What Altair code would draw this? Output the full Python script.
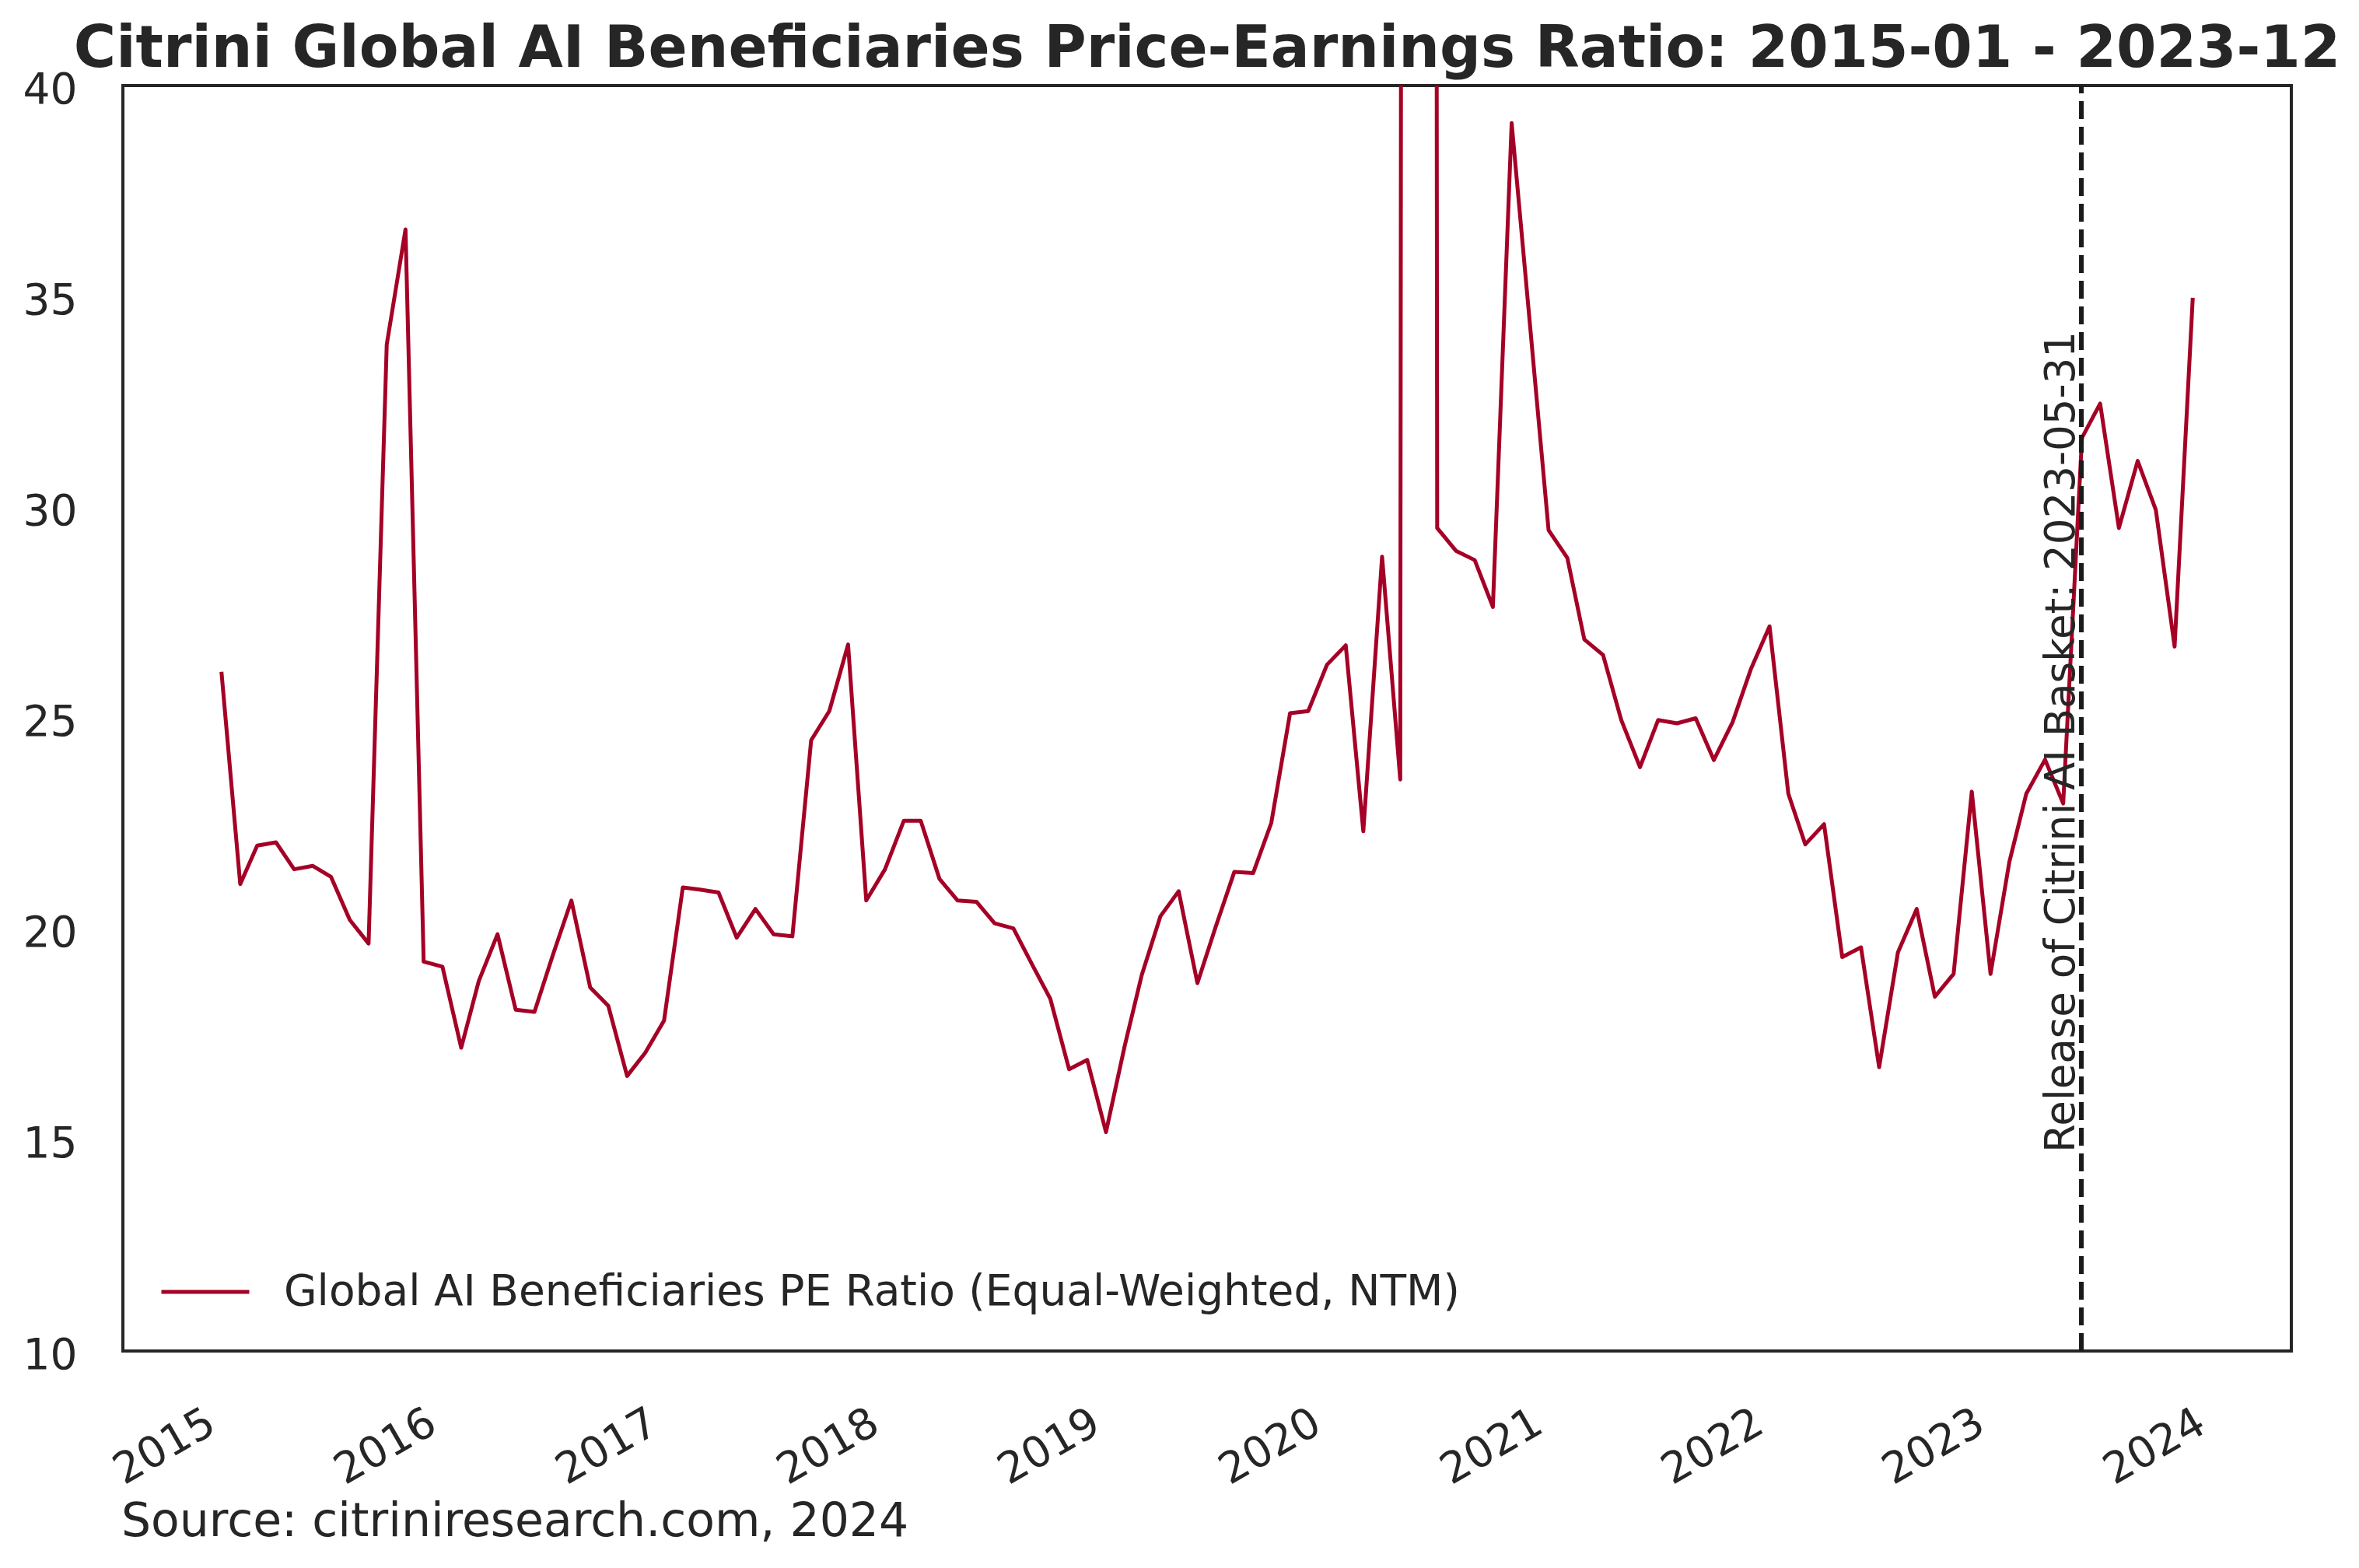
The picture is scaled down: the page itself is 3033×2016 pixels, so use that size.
import altair as alt
import pandas as pd

# ---------------- data ----------------
start_month = "2015-01-01"
pe_ratio = [26.10, 21.07, 21.98, 22.06, 21.42, 21.50, 21.24, 20.22, 19.66, 33.86, 36.59, 19.23,
            19.11, 17.19, 18.77, 19.88, 18.09, 18.04, 19.37, 20.68, 18.62, 18.18, 16.52, 17.07,
            17.83, 20.99, 20.94, 20.87, 19.80, 20.48, 19.88, 19.83, 24.48, 25.17, 26.75, 20.68,
            21.42, 22.57, 22.57, 21.19, 20.68, 20.65, 20.14, 20.02, 19.16, 18.35, 16.68, 16.90,
            15.19, 17.24, 18.91, 20.31, 20.90, 18.72, 20.05, 21.36, 21.33, 22.52, 25.12, 25.17,
            26.27, 26.73, 22.32, 28.83, 23.55, 450.0, 29.51, 28.97, 28.75, 27.64, 39.11, 34.37,
            29.46, 28.80, 26.87, 26.50, 24.96, 23.84, 24.96, 24.88, 25.00, 24.01, 24.91, 26.16,
            27.18, 23.21, 22.01, 22.49, 19.34, 19.57, 16.73, 19.45, 20.48, 18.40, 18.94, 23.26,
            18.94, 21.59, 23.21, 24.02, 22.98, 31.65, 32.46, 29.51, 31.10, 29.94, 26.70, 34.97]
series_name = "Global AI Beneficiaries PE Ratio (Equal-Weighted, NTM)"
release_date = ["2023-05-31T00:00:00"]
release_label = ["Release of Citrini AI Basket: 2023-05-31"]
annotation_y = 14.7
source_text = ["Source: citriniresearch.com, 2024"]
title_text = ["Citrini Global AI Beneficiaries Price-Earnings Ratio: 2015-01 - 2023-12"]
year_ticks = list(range(2015, 2025))
y_ticks = [10, 15, 20, 25, 30, 35, 40]
y_range = [10, 40]

FONT = "DejaVu Sans"
TXT = "#262626"
RED = "#A50026"
W, H = 2788, 1627
LW = 5

dates = pd.date_range(start_month, periods=len(pe_ratio), freq="MS")
df = pd.DataFrame({
    "date": dates.strftime("%Y-%m-%dT00:00:00"),
    "pe": pe_ratio,
    "series": series_name,
})

# matplotlib-like 5% margins on the time axis
d0, d1 = dates[0], dates[-1]
pad = (d1 - d0) * 0.05
lo, hi = d0 - pad, d1 + pad


def dt(ts):
    return alt.DateTime(year=int(ts.year), month=int(ts.month), date=int(ts.day),
                        hours=int(ts.hour), minutes=int(ts.minute), seconds=int(ts.second))


x_scale = alt.Scale(domain=[dt(lo), dt(hi)], nice=False)

line = alt.Chart(df).mark_line(clip=True, strokeWidth=LW, strokeJoin="round").encode(
    x=alt.X("date:T", scale=x_scale,
            axis=alt.Axis(values=[alt.DateTime(year=y, month=1, date=1) for y in year_ticks],
                          format="%Y", labelAngle=-30, labelAlign="right", labelBaseline="top",
                          labelPadding=65, labelOffset=-26, labelFlush=False,
                          labelOverlap=False, title=None)),
    y=alt.Y("pe:Q", scale=alt.Scale(domain=y_range, nice=False, zero=False),
            axis=alt.Axis(values=y_ticks, labelPadding=59, labelOffset=5,
                          labelFlush=False, title=None)),
    color=alt.Color("series:N",
                    scale=alt.Scale(domain=[series_name], range=[RED]),
                    legend=alt.Legend(orient="none", legendX=47, legendY=1492, title=None,
                                      symbolType="stroke", symbolSize=12769,
                                      symbolStrokeWidth=LW, labelFontSize=55,
                                      labelFont=FONT, labelColor=TXT, labelOffset=42,
                                      labelLimit=3000, padding=0)),
)

rel_df = pd.DataFrame({"date": release_date, "label": release_label})

rule = alt.Chart(rel_df).mark_rule(strokeDash=[23, 10], strokeWidth=6, color="#1a1a1a").encode(
    x=alt.X("date:T"),
    y=alt.value(H),
    y2=alt.value(0),
)

ann = alt.Chart(rel_df).mark_text(angle=270, align="left", baseline="bottom", dy=2,
                                  fontSize=53, font=FONT, color=TXT).encode(
    x=alt.X("date:T"),
    y=alt.datum(annotation_y),
    text="label:N",
)

src = alt.Chart(pd.DataFrame({"text": source_text})).mark_text(
    align="left", baseline="alphabetic", fontSize=60, font=FONT, color=TXT).encode(
    x=alt.value(-2),
    y=alt.value(1865),
    text="text:N",
)

ttl = alt.Chart(pd.DataFrame({"text": title_text})).mark_text(
    align="center", baseline="alphabetic", fontSize=74, fontWeight="bold",
    font=FONT, color=TXT).encode(
    x=alt.value(W / 2),
    y=alt.value(-24),
    text="text:N",
)

chart = alt.layer(line, rule, ann, src, ttl).properties(
    width=W, height=H,
    padding={"left": 158, "top": 110, "right": 87, "bottom": 279},
    autosize=alt.AutoSizeParams(type="none"),
    background="white",
).configure_view(stroke=TXT, strokeWidth=4).configure_axis(
    domain=False, ticks=False, grid=False, labelFont=FONT, labelFontSize=55, labelColor=TXT
)

chart.save("out.html", embed_options={"renderer": "svg", "actions": False})
